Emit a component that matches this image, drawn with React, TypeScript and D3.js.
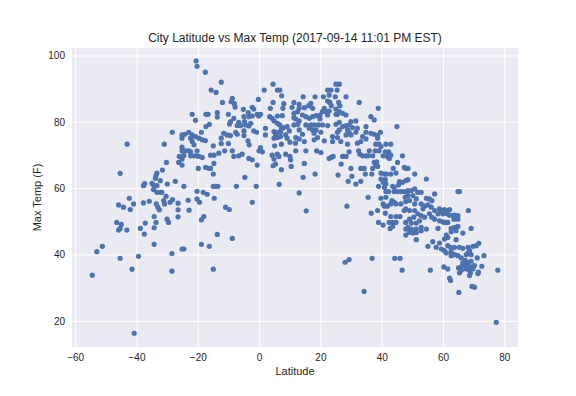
import React from 'react'
import * as d3 from 'd3'

// [latitude, max temp F]
const southCities: [number, number][] = [
  [-43.2,73.4],[-31.1,73.4],[-28.5,77.0],[-25.3,76.2],[-25.3,75.2],[-25.3,72.5],
  [-45.5,64.6],[-30.4,67.9],[-31.7,65.6],[-33.5,64.7],[-33.8,63.9],[-34.0,63.1],[-32.4,62.4],[-35.1,61.6],
  [-34.6,61.1],[-37.9,60.9],[-37.5,61.5],[-33.5,60.9],[-30.1,61.4],[-27.5,62.2],[-34.6,59.7],[-33.5,58.9],
  [-32.4,58.9],[-31.9,58.9],[-30.5,57.7],[-42.5,57.1],[-46.0,55.1],[-44.4,54.4],[-42.2,53.7],[-41.1,55.4],
  [-37.9,55.7],[-36.0,56.2],[-33.7,55.4],[-33.2,54.4],[-32.7,53.6],[-31.3,56.4],[-31.0,55.4],[-29.2,55.9],
  [-28.4,56.7],[-26.6,55.6],[-26.6,53.6],[-26.6,51.5],[-34.4,51.6],[-33.8,49.8],[-30.2,50.8],[-29.7,49.8],
  [-46.6,49.8],[-45.1,49.2],[-45.5,48.0],[-46.0,47.5],[-43.3,47.5],[-37.3,49.6],[-38.9,48.0],[-34.4,48.2],
  [-37.6,46.3],[-34.4,43.2],[-51.3,42.6],[-53.1,41.0],[-28.6,40.4],[-25.3,41.8],[-25.3,71.4],[-26.2,69.7],
  [-25.3,68.9],[-26.4,67.9],[-25.3,67.1],
  [-45.5,39.0],[-39.5,39.6],[-41.6,35.7],[-54.6,33.9],[-28.6,35.1],[-40.9,16.4],[-15.1,35.7]
]

const tropicCities: [number, number][] = [
  [-20.7,98.5],[-20.4,96.9],[-17.7,95.1],[-12.5,92.1],[-15.8,89.7],[-14.2,89.0],[1.5,89.7],[4.4,91.5],
  [5.8,89.7],[6.6,89.7],[7.2,88.0],[-8.9,87.2],[-9.3,86.2],[-8.2,85.6],[-8.0,84.6],[-12.1,86.0],[-0.4,86.9],
  [4.4,86.0],[7.9,85.6],[11.2,86.0],[-5.3,83.9],[-2.4,84.5],[-1.9,84.0],[3.5,84.2],[7.6,84.2],[10.6,84.5],
  [-3.7,82.9],[-22.0,82.4],[-17.5,82.4],[-16.8,82.4],[-13.8,82.9],[-13.8,81.6],[-10.2,82.4],[-5.1,81.7],
  [-3.5,81.7],[-2.4,81.9],[-0.8,82.4],[0.3,82.4],[-0.3,81.9],[3.3,81.7],[4.1,81.2],[5.8,81.9],[7.4,82.0],
  [11.2,82.7],[11.2,81.4],[-20.9,80.6],[-8.4,81.2],[-9.5,80.2],[-9.8,79.5],[-6.8,80.0],[-7.3,79.0],[-6.2,79.0],
  [-4.9,80.2],[-4.6,79.2],[-3.5,78.9],[-2.9,79.7],[-16.4,79.4],[-17.5,78.7],[1.9,78.2],[4.7,80.4],[5.8,79.7],
  [6.6,79.2],[7.1,78.0],[7.9,78.4],[9.0,78.7],[9.7,77.4],[11.2,79.2],[-24.4,76.4],[-23.1,77.0],[-22.0,76.2],
  [-20.9,75.7],[-19.8,75.2],[-18.7,74.7],[-22.5,75.2],[-22.0,74.2],[-21.4,73.2],[-19.0,77.0],[-17.7,74.5],
  [-15.1,72.9],[-12.5,75.2],[-12.5,73.6],[-11.7,76.7],[-10.6,76.2],[-9.5,76.0],[-10.2,73.6],[-7.8,77.0],
  [-7.3,76.4],[-5.1,77.4],[-5.1,76.0],[-3.8,74.4],[-3.4,73.2],[-1.9,77.4],[-1.0,77.0],[0.3,72.4],[1.9,76.2],
  [4.7,77.2],[5.2,76.2],[5.8,77.0],[6.8,77.0],[4.7,75.2],[5.8,75.4],[6.8,75.7],[8.5,76.2],[9.0,75.2],
  [9.9,74.0],[4.9,72.9],[7.1,73.4],[11.7,73.7],
  [-24.2,71.4],[-23.1,71.4],[-22.5,71.1],[-24.7,70.0],[-22.5,69.9],[-21.4,69.9],[-20.4,69.9],[-19.8,69.7],
  [-18.7,69.4],[-20.4,71.4],[-16.0,70.1],[-14.9,70.1],[-13.3,70.7],[-11.4,71.4],[-8.9,71.4],[-8.4,69.7],
  [-6.8,69.9],[-5.7,70.4],[-3.5,69.1],[-2.4,68.7],[-0.2,71.4],[0.9,71.1],[-0.8,67.1],[4.1,70.1],[5.8,70.4],
  [6.3,69.7],[4.7,68.9],[4.4,66.9],[5.2,67.4],[8.5,70.4],[9.9,69.7],[10.1,68.7],[7.1,65.7],[10.3,66.7],
  [-20.0,66.1],[-17.6,66.4],[-16.5,66.1],[-16.0,66.1],[-14.9,67.6],[-15.1,64.4],[-4.8,63.4],[-24.7,60.7],
  [-15.1,60.7],[-14.4,60.7],[-13.6,60.7],[-7.6,60.7],[-1.1,60.7],[6.4,61.3],[-20.4,59.2],[-18.4,58.9],
  [-17.1,58.3],[-23.3,56.5],[-20.4,56.9],[-19.6,55.9],[-14.8,57.1],[-2.4,55.9],[-11.1,54.4],[-9.9,53.7],
  [-23.0,53.5],[-18.2,51.6],[-19.0,50.6],[-13.8,46.2],[-8.9,45.0],[-19.0,43.2],[-16.4,42.6],[-24.7,41.8]
]

const northCities: [number, number][] = [
  [24.9,91.5],[26.0,91.5],[22.2,89.7],[23.3,89.7],[25.3,89.7],[14.2,87.7],[18.1,87.7],[20.8,87.7],[22.7,88.2],
  [24.7,87.7],[28.2,87.7],[22.2,86.4],[22.9,86.0],[23.4,85.0],[25.8,86.0],[26.2,85.0],[32.5,86.0],[16.7,85.7],
  [16.0,85.0],[17.3,84.2],[12.9,85.4],[12.9,84.2],[14.6,84.4],[12.4,83.2],[21.1,84.2],[20.5,83.2],[21.6,83.2],
  [22.7,83.4],[22.2,82.2],[24.9,84.0],[26.0,83.2],[27.1,82.7],[28.2,82.2],[24.9,82.4],[25.4,82.4],[38.7,84.2],
  [14.0,82.2],[15.1,81.7],[16.2,81.2],[17.3,81.7],[18.4,82.0],[19.7,82.2],[19.7,81.0],[11.8,81.0],[12.9,80.4],
  [12.4,79.4],[15.1,79.2],[16.7,79.2],[17.8,79.2],[16.2,78.2],[17.3,77.7],[18.4,77.7],[17.8,76.7],[19.2,79.2],
  [20.5,79.2],[22.2,79.0],[20.0,77.0],[24.9,79.4],[26.0,80.0],[27.1,78.7],[28.2,79.0],[29.2,79.2],[29.8,80.2],
  [31.4,80.4],[28.7,77.7],[29.2,77.0],[29.8,76.2],[28.2,76.2],[30.3,78.4],[31.9,78.2],[31.4,77.0],[36.3,81.7],
  [37.4,80.7],[34.7,78.7],[34.7,77.0],[36.3,76.7],[37.4,76.4],[38.5,76.0],[38.5,75.2],[39.4,77.0],[44.8,78.7],
  [12.9,77.7],[14.0,76.4],[11.8,75.4],[12.9,75.0],[14.6,74.2],[18.9,75.4],[17.8,74.7],[21.1,74.4],[23.8,75.7],
  [25.4,75.4],[26.0,77.7],[25.4,77.0],[23.8,74.2],[26.5,74.2],[28.7,73.4],[31.9,73.7],[33.0,74.2],[34.7,75.0],
  [33.6,75.7],[37.9,73.4],[39.0,73.4],[39.6,72.7],[41.2,73.4],[42.8,73.4],
  [11.8,71.4],[15.1,71.4],[18.6,71.4],[20.0,70.9],[23.3,69.4],[22.7,69.1],[24.0,69.7],[27.1,69.7],[28.2,69.7],
  [29.2,71.1],[32.3,71.4],[32.7,70.4],[33.6,69.9],[34.7,69.9],[35.5,69.9],[36.9,69.9],[35.8,71.4],[37.7,71.4],
  [39.0,71.4],[41.0,71.1],[42.1,71.1],[40.3,69.9],[41.7,69.7],[42.8,70.1],[42.3,69.1],[46.6,69.9],[14.6,67.6],
  [26.6,67.4],[37.4,67.9],[38.2,68.1],[38.0,67.1],[38.5,66.7],[45.0,67.9],[29.8,66.1],[33.0,66.1],[34.1,66.1],
  [36.9,66.1],[43.6,66.1],[47.2,66.4],[47.7,66.1],[18.1,64.4],[25.6,64.1],[30.1,63.7],[34.5,64.4],[36.6,64.4],
  [39.6,64.7],[40.7,64.4],[41.4,64.4],[42.8,64.4],[44.5,64.7],[14.2,63.4],[39.6,62.9],[41.0,62.7],[40.3,61.9],
  [41.2,61.4],[28.9,62.2],[31.4,61.4],[33.0,62.2],[45.6,62.1],[46.6,61.9],[47.7,62.4],[45.3,61.1],[38.8,60.7],
  [40.7,60.4],[43.4,60.7],[43.9,60.4],[12.9,58.7],[41.2,59.1],[42.1,59.1],[43.9,59.1],[45.0,59.1],[46.1,59.1],
  [47.2,59.1],[48.3,59.1],[35.4,57.4],[39.6,57.1],[41.2,57.4],[47.5,57.4],[47.7,56.1],[43.2,56.4],[43.9,55.9],
  [44.5,55.4],[42.8,55.4],[40.3,55.4],[41.7,54.7],[40.7,54.7],[46.1,55.4],[28.5,54.7],[38.5,53.4],[36.4,52.6],
  [41.0,52.6],[47.2,53.4],[47.7,53.9],[15.2,53.3],[42.8,51.6],[44.5,51.6],[45.8,51.6],[38.8,49.8],[40.3,49.0],
  [42.3,49.8],[43.4,49.8],[44.5,49.8],[42.6,48.0],[43.4,48.6],[47.7,49.8],[47.7,47.8],[47.7,46.0],
  [48.4,66.1],[48.4,62.7],[50.6,64.4],[54.4,62.9],[48.4,59.4],[49.5,59.4],[50.6,59.9],[51.6,58.9],[52.7,58.9],
  [48.4,57.9],[50.0,57.9],[51.1,56.9],[48.9,56.4],[50.6,55.4],[54.4,57.1],[55.4,56.9],[56.2,56.4],[57.1,58.4],
  [64.7,59.1],[65.2,59.1],[52.7,55.4],[53.8,54.7],[53.3,53.9],[48.9,53.4],[50.6,53.4],[51.6,52.4],[50.3,51.4],
  [48.9,50.8],[54.9,55.1],[56.0,54.4],[57.1,53.4],[55.4,52.4],[56.2,51.4],[58.7,53.9],[59.3,53.4],[60.3,53.7],
  [61.4,53.4],[62.0,53.7],[58.2,52.4],[59.8,52.4],[61.2,52.4],[62.0,52.0],[63.1,51.9],[63.6,52.0],[64.7,51.9],
  [63.4,50.8],[64.7,50.8],[68.1,53.4],[52.7,51.9],[53.8,51.4],[52.2,50.3],[51.1,49.6],[57.1,50.8],[58.7,50.3],
  [59.8,50.0],[61.4,49.8],[49.5,49.6],[48.4,48.3],[49.5,47.8],[51.1,47.8],[52.7,48.3],[54.4,47.8],[48.9,46.8],
  [50.0,46.6],[51.1,46.8],[52.7,47.3],[58.2,48.0],[60.3,49.8],[62.5,48.0],[63.6,48.3],[64.7,48.6],[64.1,47.3],
  [62.5,47.0],[69.0,48.0],[66.3,46.6],[60.9,46.0],[61.4,45.3],[60.3,44.8],[51.1,44.6],[56.5,44.0],[58.7,43.6],
  [64.1,44.6],[61.4,42.8],[62.3,42.3],[54.9,42.6],[57.6,42.3],[59.3,41.8],[63.6,42.3],[65.2,42.3],[66.3,42.0],
  [68.0,42.3],[69.6,42.6],[70.7,42.8],[71.5,43.5],[60.3,41.3],[62.5,41.0],[68.5,41.3],
  [60.9,40.6],[62.5,39.8],[63.6,40.1],[64.7,39.8],[65.8,39.1],[67.4,40.1],[68.0,40.6],[69.0,40.1],[71.0,39.1],
  [73.2,39.8],[55.7,35.4],[60.1,36.4],[61.4,35.8],[62.0,33.0],[62.3,32.3],[64.9,36.1],[66.0,36.6],[66.9,37.1],
  [68.0,36.8],[69.0,36.4],[70.1,36.8],[65.8,35.4],[67.4,35.8],[68.5,35.4],[69.6,35.8],[65.2,34.6],[68.8,34.6],
  [68.5,33.8],[71.4,34.8],[71.2,34.4],[67.1,38.4],[68.0,37.8],[69.0,38.1],[66.3,37.6],[72.5,36.6],[77.7,35.4],
  [69.3,30.5],[70.1,30.3],[65.0,28.7],[77.2,19.7],
  [27.9,37.8],[29.2,38.6],[36.7,39.0],[44.1,39.0],[45.8,39.0],[46.5,35.4],[34.1,29.0]
]

const xTicks = [-60, -40, -20, 0, 20, 40, 60, 80]
const yTicks = [20, 40, 60, 80, 100]
const title = 'City Latitude vs Max Temp (2017-09-14 11:01 PM EST)'

const W = 576, H = 396
const left = 72, right = 518, top = 48, bottom = 347
const font = 'Liberation Sans, Arial, sans-serif'
const ink = '#262626'

export default function App() {
  const x = d3.scaleLinear().domain([-61.2, 84.3]).range([left, right])
  const y = d3.scaleLinear().domain([12.25, 102.4]).range([bottom, top])
  const all = southCities.concat(tropicCities, northCities)

  return (
    <svg width={W} height={H} style={{ position: 'absolute', left: 0, top: 0, background: '#fff' }}>
      <rect x={left} y={top} width={right - left} height={bottom - top} fill="#EAEAF2" />
      {xTicks.map(t => (
        <line key={'gx' + t} x1={x(t)} x2={x(t)} y1={top} y2={bottom} stroke="#fff" strokeWidth={1} />
      ))}
      {yTicks.map(t => (
        <line key={'gy' + t} x1={left} x2={right} y1={y(t)} y2={y(t)} stroke="#fff" strokeWidth={1} />
      ))}
      {all.map((d, i) => (
        <circle key={i} cx={x(d[0])} cy={y(d[1])} r={2.6} fill="#4C72B0" />
      ))}
      {xTicks.map(t => (
        <text key={'tx' + t} x={x(t)} y={361} textAnchor="middle" fontFamily={font} fontSize={10} fill={ink}>
          {d3.format('')(t).replace('-', '\u2212')}
        </text>
      ))}
      {yTicks.map(t => (
        <text key={'ty' + t} x={65} y={y(t) + 3.5} textAnchor="end" fontFamily={font} fontSize={10} fill={ink}>
          {t}
        </text>
      ))}
      <text x={(left + right) / 2} y={375} textAnchor="middle" fontFamily={font} fontSize={11} fill={ink}>Latitude</text>
      <text transform={`translate(41,${(top + bottom) / 2}) rotate(-90)`} textAnchor="middle" fontFamily={font} fontSize={11} fill={ink}>
        Max Temp (F)
      </text>
      <text x={(left + right) / 2} y={42} textAnchor="middle" fontFamily={font} fontSize={12} fill={ink}>{title}</text>
    </svg>
  )
}
